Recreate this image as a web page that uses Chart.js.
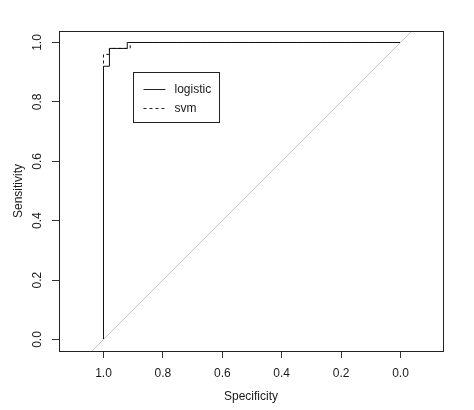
<!DOCTYPE html>
<html>
<head>
<meta charset="utf-8">
<script src="https://cdn.jsdelivr.net/npm/chart.js@4"></script>
<style>
  html, body { margin: 0; padding: 0; background: #fff; }
  #wrap { width: 474px; height: 410px; }
</style>
</head>
<body>
<div id="wrap"><canvas id="roc" width="474" height="410"></canvas></div>
<script>
// ROC curves (specificity reversed on x)
const logisticSpec = [1, 1, 0.98, 0.98, 0.92, 0.92, 0];
const logisticSens = [0, 0.92, 0.92, 0.98, 0.98, 1, 1];
const svmSpec = [1, 1, 0.98, 0.98, 0.91, 0.91, 0];
const svmSens = [0, 0.96, 0.96, 0.98, 0.98, 1, 1];

const seriesNames = ['logistic', 'svm'];
const xTicks = [0, 0.2, 0.4, 0.6, 0.8, 1.0];
const yTicks = [0, 0.2, 0.4, 0.6, 0.8, 1.0];
const xLimits = [-0.1431, 1.1498];
const yLimits = [-0.0387, 1.0387];
const legendAnchor = [0.9, 0.9]; // specificity, sensitivity of legend top-left

const FONT = { family: '"Liberation Sans", Arial, sans-serif', size: 12 };
const INK = '#1a1a1a';

const toPoints = (xs, ys) => xs.map((x, i) => ({ x: x, y: ys[i] }));
// chance line sens = 1 - spec, running across the whole plot region
const diagonal = yLimits.map(s => ({ x: 1 - s, y: s }));

// box around the plot region
const boxPlugin = {
  id: 'box',
  afterDraw(chart) {
    const { ctx, chartArea: a } = chart;
    ctx.save();
    ctx.strokeStyle = '#222';
    ctx.lineWidth = 1;
    ctx.strokeRect(Math.round(a.left) + 0.5, Math.round(a.top) + 0.5,
      Math.round(a.right - a.left), Math.round(a.bottom - a.top));
    ctx.restore();
  }
};

// R-style legend box placed in data coordinates
const legendPlugin = {
  id: 'rLegend',
  afterDraw(chart) {
    const { ctx, scales } = chart;
    const left = Math.round(scales.x.getPixelForValue(legendAnchor[0])) + 0.5;
    const top = Math.round(scales.y.getPixelForValue(legendAnchor[1])) + 0.5;
    const items = seriesNames.map(n => chart.data.datasets.find(d => d.label === n));
    ctx.save();
    ctx.strokeStyle = '#222';
    ctx.lineWidth = 1;
    ctx.strokeRect(left, top, 86, 50);
    ctx.font = `${FONT.size}px ${FONT.family}`;
    ctx.fillStyle = INK;
    ctx.textBaseline = 'middle';
    items.forEach((d, i) => {
      const y = Math.round(top + 16 + i * 19.5) + 0.5;
      ctx.setLineDash(d.borderDash || []);
      ctx.beginPath();
      ctx.moveTo(left + 10, y);
      ctx.lineTo(left + 32, y);
      ctx.stroke();
      ctx.setLineDash([]);
      ctx.fillText(d.label, left + 41, y);
    });
    ctx.restore();
  }
};

new Chart(document.getElementById('roc'), {
  type: 'scatter',
  data: {
    datasets: [
      {
        label: 'identity',
        data: diagonal,
        showLine: true,
        borderColor: '#c4c4c4',
        borderWidth: 1,
        pointRadius: 0
      },
      {
        label: seriesNames[1],
        data: toPoints(svmSpec, svmSens),
        showLine: true,
        borderColor: '#111',
        borderWidth: 1,
        borderDash: [3, 3],
        pointRadius: 0
      },
      {
        label: seriesNames[0],
        data: toPoints(logisticSpec, logisticSens),
        showLine: true,
        borderColor: '#111',
        borderWidth: 1,
        pointRadius: 0
      }
    ]
  },
  options: {
    responsive: false,
    animation: false,
    layout: { padding: { top: 31, right: 31, left: 0, bottom: 0 } },
    plugins: {
      legend: { display: false },
      tooltip: { enabled: false }
    },
    scales: {
      x: {
        type: 'linear',
        reverse: true,
        min: xLimits[0],
        max: xLimits[1],
        afterBuildTicks: (scale) => { scale.ticks = xTicks.map(v => ({ value: v })); },
        afterFit: (scale) => { scale.height = 59; },
        border: { display: false },
        grid: { drawOnChartArea: false, drawTicks: true, tickLength: 7, color: '#333' },
        ticks: {
          font: FONT,
          color: INK,
          padding: 8,
          maxRotation: 0,
          callback: (v) => Number(v).toFixed(1)
        },
        title: { display: true, text: 'Specificity', font: FONT, color: INK, padding: { top: 0, bottom: 6 } }
      },
      y: {
        type: 'linear',
        min: yLimits[0],
        max: yLimits[1],
        afterBuildTicks: (scale) => { scale.ticks = yTicks.map(v => ({ value: v })); },
        afterFit: (scale) => { scale.width = 59; },
        border: { display: false },
        grid: { drawOnChartArea: false, drawTicks: true, tickLength: 7, color: '#333' },
        ticks: {
          font: FONT,
          color: INK,
          padding: 6,
          minRotation: 90,
          maxRotation: 90,
          crossAlign: 'center',
          callback: (v) => Number(v).toFixed(1)
        },
        title: { display: true, text: 'Sensitivity', font: FONT, color: INK, padding: { top: 11, bottom: 0 } }
      }
    }
  },
  plugins: [boxPlugin, legendPlugin]
});
</script>
</body>
</html>
